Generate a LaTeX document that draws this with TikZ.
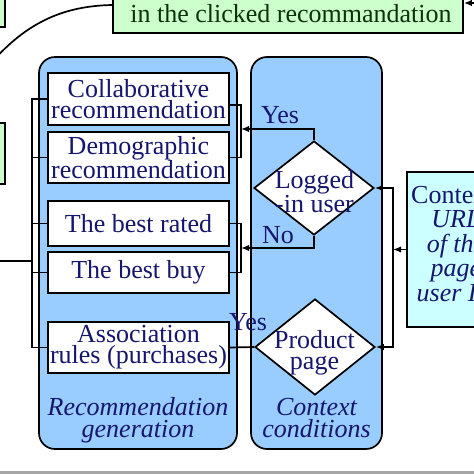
\documentclass[tikz,border=0pt]{standalone}
\usepackage{fontspec}
\setmainfont{Liberation Serif}
\usetikzlibrary{shapes.geometric,arrows.meta,calc}
\definecolor{navy}{RGB}{22,22,110}
\definecolor{boxblue}{RGB}{153,204,255}
\definecolor{lgreen}{RGB}{204,255,204}
\definecolor{lcyan}{RGB}{204,255,255}
\definecolor{dgreen}{RGB}{12,50,12}
\begin{document}
\begin{tikzpicture}[x=1pt,y=-1pt,line width=1.7pt,
  font=\fontsize{26}{21}\selectfont,
  panel/.style={draw, fill=boxblue, rounded corners=16pt, minimum height=392pt, inner sep=0pt},
  wbox/.style={draw, fill=white, text=navy, minimum width=181pt, align=center, inner sep=0pt},
  dia/.style={draw, fill=white, diamond, minimum width=120pt, inner sep=0pt},
  lbl/.style={text=navy, inner sep=0pt},
  ttl/.style={text=navy, font=\fontsize{26}{22}\selectfont\itshape, align=center, inner sep=0pt},
  gbox/.style={draw, fill=lgreen, inner sep=0pt},
  arr/.style={-{Latex[length=8pt,width=6.5pt]}},
]
\useasboundingbox (0,0) rectangle (474,474);
\clip (0,0) rectangle (474,474);
\fill[white] (0,0) rectangle (474,474);

% panels
\node[panel, minimum width=198pt] (recgen) at (138,253) {};
\node[panel, minimum width=131pt] (ctxcond) at (316.5,253) {};
\node[ttl] (recgenlbl) at (138,420.5) {Recommendation\\generation};
\node[ttl] (ctxlbl) at (316.5,418) {Context\\conditions};

% recommendation boxes
\node[wbox, minimum height=52pt] (collab) at (138.5,99) {Collaborative\\recommendation};
\node[wbox, minimum height=51pt] (demo) at (138.5,157.5) {Demographic\\recommendation};
\node[wbox, minimum height=45pt] (rated) at (138.5,223.5) {The best rated};
\node[wbox, minimum height=41pt] (buy) at (138.5,272.5) {The best buy};
\node[wbox, minimum height=51pt] (assoc) at (138.5,347.5) {Association\\rules (purchases)};

% diamonds
\node[dia, minimum height=94pt] (logged) at (314,188) {};
\node[lbl, align=center, font=\fontsize{26}{20}\selectfont] (loggedtxt) at (314.5,192) {Logged\\-in user};
\node[dia, minimum height=96pt] (product) at (315,347) {};
\node[lbl, align=center, font=\fontsize{26}{21}\selectfont] (producttxt) at (314.5,353) {Product\\page};

% context box
\node[draw, fill=lcyan, minimum width=133pt, minimum height=155pt, inner sep=0pt] (context) at (473.5,249.5) {};
\node[lbl, align=center, font=\fontsize{26}{24.5}\selectfont] (contexttxt) at (456,244) {Context:\\\textit{URL}\\\textit{of the}\\\textit{page}\\\textit{user ID}};

% green boxes
\node[gbox, minimum width=350pt, minimum height=63pt] (clicked) at (288,1.5) {};
\node[text=dgreen, anchor=base, inner sep=0pt] (clickedtxt) at (291,22) {in the clicked recommandation};
\node[gbox, minimum width=50pt, minimum height=54pt] (tlbox) at (-20,0) {};
\node[gbox, minimum width=50pt, minimum height=61pt] (lbox) at (-20,153.5) {};

% left bracket
\coordinate (lspine) at (32,0);
\coordinate (lout) at (-10,261);
\draw (collab.west) -| (lspine |- assoc.west) -- (assoc.west);
\draw (demo.west) -- (lspine |- demo.west);
\draw (rated.west) -- (lspine |- rated.west);
\draw (buy.west) -- (lspine |- buy.west);
\draw (lspine |- lout) -- (lout);

% right brackets and decisions
\coordinate (rb1) at (241,129);
\coordinate (rb2) at (241,248);
\draw ([yshift=-6pt]collab.east) -| (rb1) |- (demo.east);
\draw (rated.east) -| (rb2) |- (buy.east);
\draw[arr] (logged.north) |- (rb1);
\draw[arr] (logged.south) |- (rb2);
\draw (product.west) -- (assoc.east);
\node[lbl] (yes1) at (280,115) {Yes};
\node[lbl] (no1) at (278,235) {No};
\node[lbl] (yes2) at (248,322) {Yes};

% context inputs
\coordinate (rs) at (393,0);
\draw[arr] (rs |- context.west) |- (logged.east);
\draw[arr] (rs |- context.west) |- (product.east);
\draw[arr] (context.west) -- (rs |- context.west);

% top
\coordinate (tin) at (480,3);
\draw[arr] (tin) -- (clicked.east |- tin);
\coordinate (cend) at (-8,62);
\draw ([yshift=-3.5pt]clicked.west) .. controls (60,6) and (25,25) .. (cend);

% bottom strip
\fill[gray!70] (0,471) rectangle (474,474);
\end{tikzpicture}
\end{document}
